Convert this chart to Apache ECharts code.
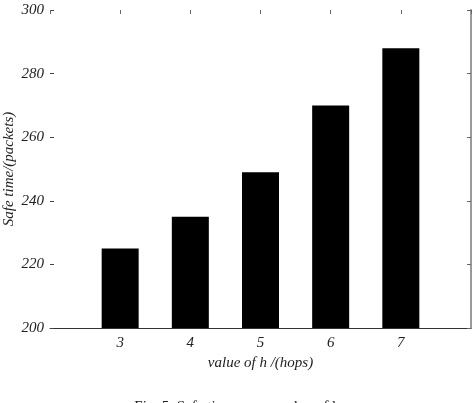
<!DOCTYPE html>
<html>
<head>
<meta charset="utf-8">
<script src="https://cdn.jsdelivr.net/npm/echarts@6/dist/echarts.min.js"></script>
<style>
html,body{margin:0;padding:0;background:#fff;}
#c{width:474px;height:403px;}
</style>
</head>
<body>
<div id="c"></div>
<script>
const hops = [3, 4, 5, 6, 7];
const safeTime = [225, 235, 249, 270, 288];
const yTicks = [200, 220, 240, 260, 280, 300];
const xTitle = 'value of h /(hops)';
const yTitle = 'Safe time/(packets)';
const caption = 'Fig. 5  Safe time versus value of h';

const font = 'Liberation Serif';
const chart = echarts.init(document.getElementById('c'), null, {renderer: 'canvas'});
chart.setOption({
  animation: false,
  backgroundColor: '#fff',
  grid: {left: 50, right: 3, top: 10, bottom: 75, containLabel: false, outerBoundsMode: 'none'},
  xAxis: [{
    type: 'value', min: 2, max: 8, interval: 1, position: 'bottom',
    splitLine: {show: false},
    axisLine: {show: true, lineStyle: {color: '#333', width: 1}},
    axisTick: {show: false},
    axisLabel: {
      fontFamily: font, fontStyle: 'italic', fontSize: 15, color: '#222', margin: 8,
      formatter: v => hops.includes(v) ? String(v) : ''
    },
    name: xTitle, nameLocation: 'middle', nameGap: 28, nameMoveOverlap: false,
    nameTextStyle: {fontFamily: font, fontStyle: 'italic', fontSize: 15, color: '#222'}
  }, {
    type: 'value', min: 2, max: 8, interval: 1, position: 'top',
    splitLine: {show: false},
    axisLine: {show: false},
    axisTick: {show: true, inside: true, length: 4, lineStyle: {color: '#666'},
      interval: (i, v) => hops.includes(v)},
    axisLabel: {show: false}
  }],
  yAxis: [{
    type: 'value', min: 200, max: 300, interval: 20, position: 'left',
    splitLine: {show: false},
    axisLine: {show: false},
    axisTick: {show: true, inside: true, length: 4, lineStyle: {color: '#444'}},
    axisLabel: {fontFamily: font, fontStyle: 'italic', fontSize: 15, color: '#222', margin: 6,
      formatter: v => yTicks.includes(v) ? String(v) : ''},
    name: yTitle, nameLocation: 'middle', nameGap: 33, nameMoveOverlap: false,
    nameTextStyle: {fontFamily: font, fontStyle: 'italic', fontSize: 15, color: '#222'}
  }, {
    type: 'value', min: 200, max: 300, interval: 20, position: 'right',
    splitLine: {show: false},
    axisLine: {show: true, lineStyle: {color: '#999', width: 2}},
    axisTick: {show: true, inside: true, length: 4, lineStyle: {color: '#666'}},
    axisLabel: {show: false}
  }],
  series: [{
    type: 'bar',
    xAxisIndex: 0, yAxisIndex: 0,
    barWidth: 37,
    itemStyle: {color: '#000'},
    data: hops.map((h, i) => [h, safeTime[i]])
  }],
  graphic: [{
    type: 'text', left: 'center', top: 400,
    style: {text: caption, fontFamily: font, fontSize: 15, fill: '#222'}
  }]
});
</script>
</body>
</html>
